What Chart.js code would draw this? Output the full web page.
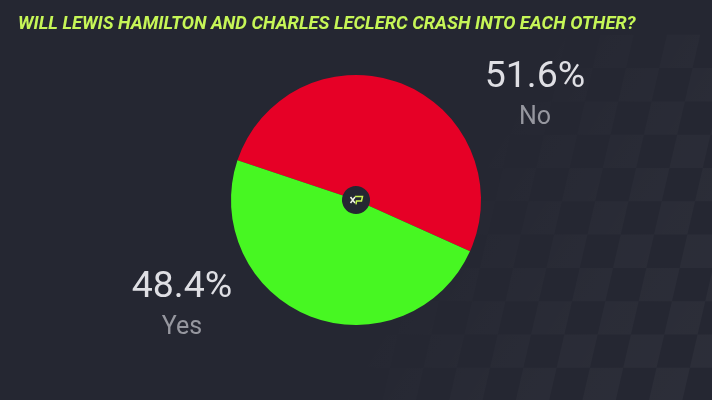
<!DOCTYPE html>
<html>
<head>
<meta charset="utf-8">
<style>
  html, body { margin: 0; padding: 0; background: #252732; }
  #wrap { width: 712px; height: 400px; }
</style>
<script src="https://cdn.jsdelivr.net/npm/chart.js@4/dist/chart.umd.min.js"></script>
</head>
<body>
<div id="wrap"><canvas id="poll" width="712" height="400"></canvas></div>
<script>
const titleText = 'WILL LEWIS HAMILTON AND CHARLES LECLERC CRASH INTO EACH OTHER?';
const answers = ['No', 'Yes'];
const shares = [51.6, 48.4];
const sliceColors = ['#e60026', '#47f722'];

// where each answer's caption sits, same order as answers
const captionCenters = [[535, 78], [182, 288]];

const pageBg = '#252732';

// faint slanted checker flag behind the chart
const checkerPlugin = {
    id: 'checker',
    beforeDraw(chart) {
        const c = chart.ctx;
        c.save();
        c.fillStyle = pageBg;
        c.fillRect(0, 0, chart.width, chart.height);

        const size = 33.3;
        const slant = 7.7;
        const fade = c.createLinearGradient(380, 200, 712, 400);
        fade.addColorStop(0.15, 'rgba(255,255,255,0)');
        fade.addColorStop(0.6, 'rgba(255,255,255,0.022)');
        fade.addColorStop(1, 'rgba(255,255,255,0.034)');
        c.fillStyle = fade;

        for (let row = -3; row < 8; row++) {
            const top = 134.7 + row * size;
            const shift = 606.7 - slant * row + (row % 2 !== 0 ? size : 0);
            for (let col = -12; col < 5; col++) {
                const x = shift + col * size * 2;
                c.beginPath();
                c.moveTo(x + slant / 2, top);
                c.lineTo(x + size + slant / 2, top);
                c.lineTo(x + size - slant / 2, top + size);
                c.lineTo(x - slant / 2, top + size);
                c.closePath();
                c.fill();
            }
        }
        c.restore();
    }
};

// percentage captions and the small badge in the hole
const captionPlugin = {
    id: 'captions',
    afterDraw(chart) {
        const c = chart.ctx;
        c.save();
        c.textAlign = 'center';
        c.textBaseline = 'middle';
        answers.forEach((name, i) => {
            const [x, y] = captionCenters[i];
            c.font = '400 37.5px Roboto';
            c.fillStyle = '#dfdfe4';
            c.fillText(shares[i].toFixed(1) + '%', x, y);
            c.font = '400 25px Roboto';
            c.fillStyle = '#96979f';
            c.fillText(name, x, y + 40);
        });

        const meta = chart.getDatasetMeta(0).data[0];
        const cx = meta.x;
        const cy = meta.y;
        c.lineWidth = 1.5;
        c.strokeStyle = '#f2f5e6';
        c.beginPath();
        c.moveTo(cx - 5.5, cy - 3);
        c.lineTo(cx - 1, cy + 3);
        c.moveTo(cx - 1, cy - 3);
        c.lineTo(cx - 5.5, cy + 3);
        c.stroke();
        c.strokeStyle = '#c8f550';
        c.beginPath();
        c.moveTo(cx - 1, cy - 3.5);
        c.lineTo(cx + 6.5, cy - 3.5);
        c.lineTo(cx + 5.5, cy + 1);
        c.lineTo(cx + 0.5, cy + 1);
        c.lineTo(cx, cy + 4.5);
        c.stroke();
        c.restore();
    }
};

new Chart(document.getElementById('poll'), {
    type: 'doughnut',
    data: {
        labels: answers,
        datasets: [{
            data: shares,
            backgroundColor: sliceColors,
            borderWidth: 0
        }]
    },
    options: {
        responsive: false,
        animation: false,
        rotation: 288.5,
        cutout: 14,
        layout: { padding: { left: 18, right: 18, bottom: 75 } },
        plugins: {
            legend: { display: false },
            tooltip: { enabled: false },
            title: {
                display: true,
                text: titleText,
                align: 'start',
                color: '#c6f657',
                font: { family: 'Roboto', size: 18.3, weight: 'bold', style: 'italic', lineHeight: 1.2 },
                padding: { top: 13, bottom: 40 }
            }
        }
    },
    plugins: [checkerPlugin, captionPlugin]
});
</script>
</body>
</html>
